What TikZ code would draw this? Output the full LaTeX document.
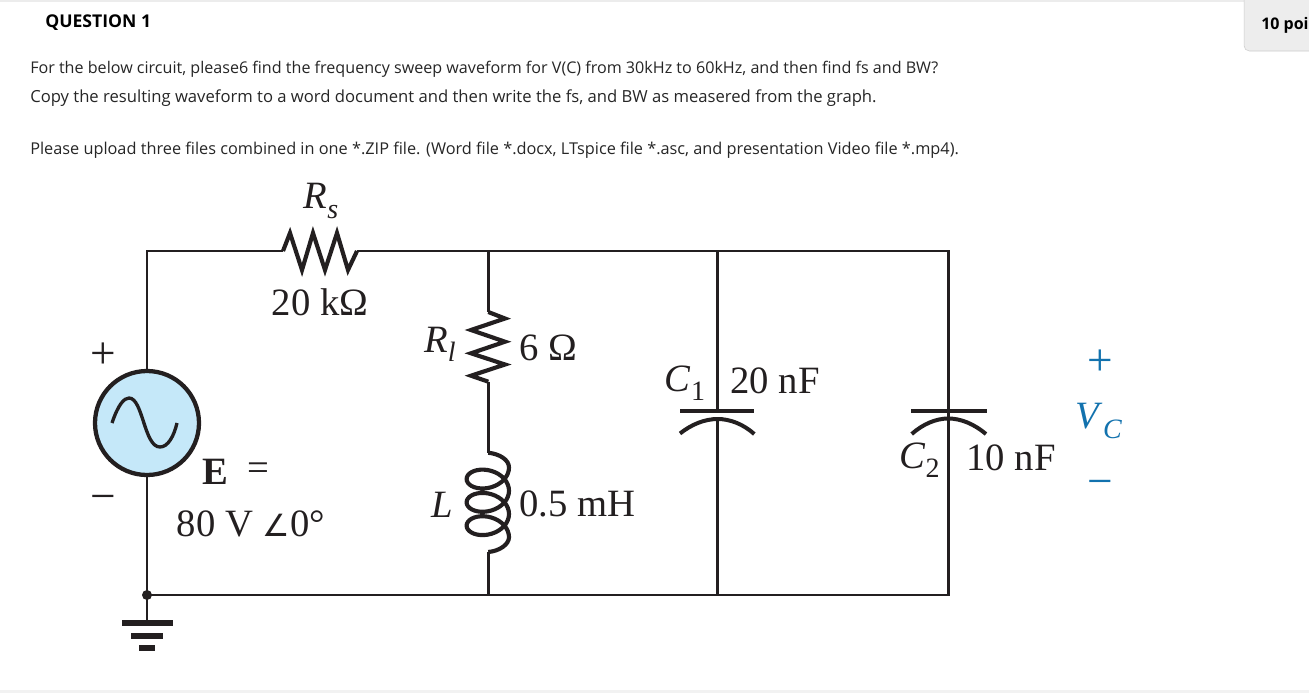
\documentclass[tikz,border=0pt]{standalone}
\usepackage{fontspec}
\setmainfont{Open Sans}
\newfontfamily\cirfont{Liberation Serif}
\newfontfamily\symfont{DejaVu Sans}
\definecolor{wire}{HTML}{231F20}
\definecolor{srcblue}{HTML}{C5E8F9}
\definecolor{vcblue}{HTML}{1272AE}
\definecolor{qtext}{HTML}{262626}
\newcommand{\lowtxt}[1]{\raisebox{-0.24em}{\fontsize{21}{21}\selectfont #1}}
\tikzset{
	qline/.style={anchor=west, inner sep=0pt, text=qtext, font=\fontsize{12}{14}\selectfont},
	lab/.style={inner sep=0pt, text=wire, font=\cirfont\fontsize{29}{30}\selectfont},
	signlab/.style={lab, font=\cirfont\fontsize{34}{34}\selectfont},
	vlab/.style={lab, text=vcblue},
	wired/.style={draw=wire, line width=1.9pt},
	part/.style={draw=wire, line width=3.1pt},
	plate/.style={draw=wire, line width=3pt}
}
\begin{document}
\begin{tikzpicture}[x=0.75pt, y=-0.75pt, line join=miter, >=stealth]
	\clip (0,0) rectangle (1309,693);
	\fill[white] (0,0) rectangle (1309,693);
	\fill[gray!15] (0,0) rectangle (1309,1.5);
	\fill[gray!10] (0,690) rectangle (1309,693);
	\draw[draw=gray!40, fill=gray!14, rounded corners=4pt] (1244,-5) -- (1244,51) -- (1315,51) -- (1315,-5) -- cycle;
	\node[qline, text=black, font=\fontsize{12}{14}\selectfont\bfseries] (pts) at (1261,25) {10 poi};
	\node[qline, text=black, font=\fontsize{13.2}{15}\selectfont\bfseries] (qhead) at (45,23) {QUESTION 1};
	\node[qline, font=\fontsize{12.08}{14}\selectfont] (qa) at (30,69) {For the below circuit, please6 find the frequency sweep waveform for V(C) from 30kHz to 60kHz, and then find fs and BW?};
	\node[qline, font=\fontsize{12.48}{14}\selectfont] (qb) at (30,98) {Copy the resulting waveform to a word document and then write the fs, and BW as measered from the graph.};
	\node[qline, font=\fontsize{12.22}{14}\selectfont] (qc) at (30,150) {Please upload three files combined in one *.ZIP file. (Word file *.docx, LTspice file *.asc, and presentation Video file *.mp4).};

	\coordinate (tl) at (147,251);
	\coordinate (tb) at (488.3,251);
	\coordinate (tc) at (717.7,251);
	\coordinate (tr) at (948.3,251);
	\coordinate (bl) at (147,595);
	\coordinate (bb) at (488.3,595);
	\coordinate (bc) at (717.7,595);
	\coordinate (br) at (948.3,595);
	\coordinate (gnd) at (147,623);
	\coordinate (rsa) at (283,251);
	\coordinate (rsb) at (357,251);
	\coordinate (rla) at (488.3,312);
	\coordinate (rlb) at (488.3,381.7);
	\coordinate (la) at (488.3,452.7);
	\coordinate (lb) at (488.3,552);
	\coordinate (caa) at (717.7,411);
	\coordinate (cab) at (717.7,419);
	\coordinate (cba) at (948.3,411);
	\coordinate (cbb) at (948.3,418.5);

	\node[circle, draw=wire, line width=3.2pt, fill=srcblue, minimum size=78pt, inner sep=0pt] (src) at (147,423) {};
	\draw[part, line width=2.5pt] (112,423) .. controls (118,405) and (124,398) .. (129,398) .. controls (143,398) and (144,447) .. (160,447) .. controls (168,447) and (174,436) .. (177,423);

	\draw[wired] (src) -- (tl) -- (rsa);
	\draw[wired] (rsb) -- (tb) -- (tc) -- (tr) -- (br) -- (bc) -- (bb) -- (bl) -- (src);
	\draw[wired] (tb) -- (rla);
	\draw[wired] (rlb) -- (la);
	\draw[wired] (lb) -- (bb);
	\draw[wired] (tc) -- (caa);
	\draw[wired] (cab) -- (bc);
	\draw[wired] (bl) -- (gnd);

	\draw[part] (rsa) -- (290,233) -- (302,270) -- (313,233) -- (325,270) -- (337,233) -- (348,270) -- (rsb);
	\draw[part] (rla) -- (505,318.5) -- (471,330) -- (505,341.7) -- (471,353.3) -- (505,364.5) -- (471,375.7) -- (rlb);
	\draw[part] (la) .. controls (500,454) and (509,460) .. (509,467.4)
		-- plot[smooth, domain=0:1080, samples=109] ({487.8+21.2*cos(\x)},{467.4+\x/360*23.3+14.8*sin(\x)})
		.. controls (509,544) and (500,551) .. (lb);

	\draw[plate] (680,411) -- (754.3,411);
	\draw[plate] (680,433.5) .. controls (692,424) and (705,419) .. (cab) .. controls (730,419) and (743,424) .. (754.3,434);
	\draw[plate] (911,411) -- (986.7,411);
	\draw[plate] (911.7,434) .. controls (923,424) and (936,418.5) .. (cbb) .. controls (961,418.5) and (974,424) .. (986,434);

	\fill[wire] (bl) circle (5);
	\draw[draw=wire, line width=5.2pt] (122,623) -- (173,623);
	\draw[draw=wire, line width=5.2pt] (131,636) -- (163,636);
	\draw[draw=wire, line width=5pt] (139,648) -- (155,648);

	\node[lab] (rs) at (321,201) {\textit{R}\lowtxt{\textit{s}}};
	\node[lab] (rsv) at (320,302) {20 kΩ};
	\node[lab] (rl) at (440,344) {\textit{R}\lowtxt{\textit{l}}};
	\node[lab] (rlv) at (548,348) {6 Ω};
	\node[lab] (ll) at (442,505) {\textit{L}};
	\node[lab] (llv) at (577,504) {0.5 mH};
	\node[lab] (ca) at (685,383) {\textit{C}\lowtxt{1}};
	\node[lab] (cav) at (775,381) {20 nF};
	\node[lab] (cb) at (919.5,460) {\textit{C}\lowtxt{2}};
	\node[lab] (cbv) at (1011,458) {10 nF};
	\node[signlab] (plus) at (103,356) {+};
	\node[signlab] (minus) at (103,503) {−};
	\node[lab] (ee) at (215,472) {\textbf{E}};
	\node[lab] (eq) at (258,472) {=};
	\node[lab] (ev) at (251,524) {80 V {\symfont\fontsize{23}{23}\selectfont ∠}0°};
	\node[signlab, text=vcblue] (vp) at (1100,363) {+};
	\node[vlab] (vc) at (1099,421) {\textit{V}\lowtxt{\textit{C}}};
	\node[signlab, text=vcblue] (vm) at (1100,488) {−};
\end{tikzpicture}
\end{document}
